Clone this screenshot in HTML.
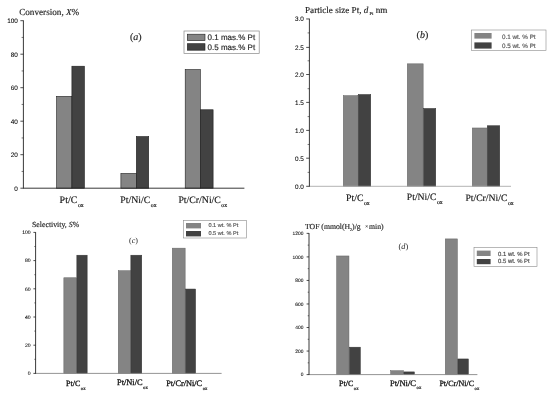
<!DOCTYPE html>
<html><head><meta charset="utf-8"><title>Figure</title>
<style>html,body{margin:0;padding:0;background:#fff;}svg{display:block;}text{text-rendering:geometricPrecision;}</style>
</head><body>
<svg width="550" height="395" viewBox="0 0 550 395">
<rect width="550" height="395" fill="#fff"/>
<rect x="56.60" y="96.37" width="15.30" height="91.83" fill="#848484" stroke="#1e1e1e" stroke-width="0.6"/>
<rect x="71.90" y="66.22" width="12.50" height="121.98" fill="#424242" stroke="#1e1e1e" stroke-width="0.6"/>
<rect x="120.90" y="173.43" width="15.40" height="14.77" fill="#848484" stroke="#1e1e1e" stroke-width="0.6"/>
<rect x="136.30" y="136.57" width="12.40" height="51.62" fill="#424242" stroke="#1e1e1e" stroke-width="0.6"/>
<rect x="185.20" y="69.57" width="15.10" height="118.62" fill="#848484" stroke="#1e1e1e" stroke-width="0.6"/>
<rect x="200.30" y="109.77" width="12.80" height="78.43" fill="#424242" stroke="#1e1e1e" stroke-width="0.6"/>
<line x1="23.40" y1="188.20" x2="244.40" y2="188.20" stroke="#222" stroke-width="0.9"/>
<line x1="23.40" y1="20.40" x2="23.40" y2="188.60" stroke="#222" stroke-width="0.9"/>
<line x1="20.40" y1="188.20" x2="23.40" y2="188.20" stroke="#222" stroke-width="0.8"/>
<text x="17.80" y="190.50" font-family='"Liberation Sans", sans-serif' font-size="6.4" text-anchor="end" fill="#000"  stroke="#000" stroke-width="0.06">0</text>
<line x1="20.40" y1="154.70" x2="23.40" y2="154.70" stroke="#222" stroke-width="0.8"/>
<text x="17.80" y="157.00" font-family='"Liberation Sans", sans-serif' font-size="6.4" text-anchor="end" fill="#000"  stroke="#000" stroke-width="0.06">20</text>
<line x1="20.40" y1="121.20" x2="23.40" y2="121.20" stroke="#222" stroke-width="0.8"/>
<text x="17.80" y="123.50" font-family='"Liberation Sans", sans-serif' font-size="6.4" text-anchor="end" fill="#000"  stroke="#000" stroke-width="0.06">40</text>
<line x1="20.40" y1="87.70" x2="23.40" y2="87.70" stroke="#222" stroke-width="0.8"/>
<text x="17.80" y="90.00" font-family='"Liberation Sans", sans-serif' font-size="6.4" text-anchor="end" fill="#000"  stroke="#000" stroke-width="0.06">60</text>
<line x1="20.40" y1="54.20" x2="23.40" y2="54.20" stroke="#222" stroke-width="0.8"/>
<text x="17.80" y="56.50" font-family='"Liberation Sans", sans-serif' font-size="6.4" text-anchor="end" fill="#000"  stroke="#000" stroke-width="0.06">80</text>
<line x1="20.40" y1="20.70" x2="23.40" y2="20.70" stroke="#222" stroke-width="0.8"/>
<text x="17.80" y="23.00" font-family='"Liberation Sans", sans-serif' font-size="6.4" text-anchor="end" fill="#000"  stroke="#000" stroke-width="0.06">100</text>
<line x1="21.60" y1="171.45" x2="23.40" y2="171.45" stroke="#222" stroke-width="0.6"/>
<line x1="21.60" y1="137.95" x2="23.40" y2="137.95" stroke="#222" stroke-width="0.6"/>
<line x1="21.60" y1="104.45" x2="23.40" y2="104.45" stroke="#222" stroke-width="0.6"/>
<line x1="21.60" y1="70.95" x2="23.40" y2="70.95" stroke="#222" stroke-width="0.6"/>
<line x1="21.60" y1="37.45" x2="23.40" y2="37.45" stroke="#222" stroke-width="0.6"/>
<text x="19.20" y="15.00" font-family='"Liberation Serif", serif' font-size="9.17" text-anchor="start" fill="#222"  stroke="#222" stroke-width="0.15">Conversion, <tspan font-style="italic">X</tspan>%</text>
<text x="130.00" y="39.60" font-family='"Liberation Serif", serif' font-size="10" text-anchor="start" fill="#222"  stroke="#222" stroke-width="0.15">(<tspan font-style="italic">a</tspan>)</text>
<text x="59.60" y="203.00" font-family='"Liberation Serif", serif' font-size="10" text-anchor="start" fill="#151515"  stroke="#151515" stroke-width="0.15">Pt/C<tspan font-size="5.8" dy="4.0" dx="0.5" stroke-width="0.18">ox</tspan></text>
<text x="120.30" y="202.70" font-family='"Liberation Serif", serif' font-size="9.8" text-anchor="start" fill="#151515"  stroke="#151515" stroke-width="0.15">Pt/Ni/C<tspan font-size="5.8" dy="4.0" dx="0.5" stroke-width="0.18">ox</tspan></text>
<text x="178.40" y="202.70" font-family='"Liberation Serif", serif' font-size="9.8" text-anchor="start" fill="#151515"  stroke="#151515" stroke-width="0.15">Pt/Cr/Ni/C<tspan font-size="5.8" dy="4.0" dx="0.5" stroke-width="0.18">ox</tspan></text>
<rect x="184.00" y="31.00" width="75.20" height="22.40" fill="#fff" stroke="#888" stroke-width="0.7"/>
<rect x="187.30" y="34.20" width="17.70" height="6.40" fill="#848484" stroke="#1e1e1e" stroke-width="0.6"/>
<rect x="187.30" y="43.70" width="17.70" height="6.50" fill="#424242" stroke="#1e1e1e" stroke-width="0.6"/>
<text x="207.60" y="40.10" font-family='"Liberation Sans", sans-serif' font-size="8.0" text-anchor="start" fill="#222"  stroke="#222" stroke-width="0.15">0.1 mas.% Pt</text>
<text x="207.60" y="49.90" font-family='"Liberation Sans", sans-serif' font-size="8.0" text-anchor="start" fill="#222"  stroke="#222" stroke-width="0.15">0.5 mas.% Pt</text>
<rect x="343.25" y="95.63" width="14.50" height="90.67" fill="#848484" stroke="#626262" stroke-width="0.5"/>
<rect x="358.25" y="94.51" width="12.50" height="91.79" fill="#424242" stroke="#303030" stroke-width="0.5"/>
<rect x="407.25" y="63.83" width="15.90" height="122.47" fill="#848484" stroke="#626262" stroke-width="0.5"/>
<rect x="423.65" y="108.46" width="12.10" height="77.84" fill="#424242" stroke="#303030" stroke-width="0.5"/>
<rect x="472.25" y="127.98" width="14.50" height="58.32" fill="#848484" stroke="#626262" stroke-width="0.5"/>
<rect x="487.25" y="125.75" width="12.50" height="60.55" fill="#424242" stroke="#303030" stroke-width="0.5"/>
<line x1="309.40" y1="186.30" x2="511.00" y2="186.30" stroke="#aaa" stroke-width="0.9"/>
<line x1="309.40" y1="18.66" x2="309.40" y2="186.70" stroke="#222" stroke-width="0.9"/>
<line x1="306.20" y1="186.30" x2="309.40" y2="186.30" stroke="#222" stroke-width="0.8"/>
<text x="303.90" y="188.60" font-family='"Liberation Sans", sans-serif' font-size="6.4" text-anchor="end" fill="#000"  stroke="#000" stroke-width="0.06">0.0</text>
<line x1="306.20" y1="158.20" x2="309.40" y2="158.20" stroke="#222" stroke-width="0.8"/>
<text x="303.90" y="160.50" font-family='"Liberation Sans", sans-serif' font-size="6.4" text-anchor="end" fill="#000"  stroke="#000" stroke-width="0.06">0.5</text>
<line x1="306.20" y1="130.40" x2="309.40" y2="130.40" stroke="#222" stroke-width="0.8"/>
<text x="303.90" y="132.70" font-family='"Liberation Sans", sans-serif' font-size="6.4" text-anchor="end" fill="#000"  stroke="#000" stroke-width="0.06">1.0</text>
<line x1="306.20" y1="102.40" x2="309.40" y2="102.40" stroke="#222" stroke-width="0.8"/>
<text x="303.90" y="104.70" font-family='"Liberation Sans", sans-serif' font-size="6.4" text-anchor="end" fill="#000"  stroke="#000" stroke-width="0.06">1.5</text>
<line x1="306.20" y1="74.50" x2="309.40" y2="74.50" stroke="#222" stroke-width="0.8"/>
<text x="303.90" y="76.80" font-family='"Liberation Sans", sans-serif' font-size="6.4" text-anchor="end" fill="#000"  stroke="#000" stroke-width="0.06">2.0</text>
<line x1="306.20" y1="47.40" x2="309.40" y2="47.40" stroke="#222" stroke-width="0.8"/>
<text x="303.90" y="49.70" font-family='"Liberation Sans", sans-serif' font-size="6.4" text-anchor="end" fill="#000"  stroke="#000" stroke-width="0.06">2.5</text>
<line x1="306.20" y1="18.96" x2="309.40" y2="18.96" stroke="#222" stroke-width="0.8"/>
<text x="303.90" y="21.26" font-family='"Liberation Sans", sans-serif' font-size="6.4" text-anchor="end" fill="#000"  stroke="#000" stroke-width="0.06">3.0</text>
<line x1="307.60" y1="172.36" x2="309.40" y2="172.36" stroke="#222" stroke-width="0.6"/>
<line x1="307.60" y1="144.47" x2="309.40" y2="144.47" stroke="#222" stroke-width="0.6"/>
<line x1="307.60" y1="116.58" x2="309.40" y2="116.58" stroke="#222" stroke-width="0.6"/>
<line x1="307.60" y1="88.69" x2="309.40" y2="88.69" stroke="#222" stroke-width="0.6"/>
<line x1="307.60" y1="60.80" x2="309.40" y2="60.80" stroke="#222" stroke-width="0.6"/>
<line x1="307.60" y1="32.91" x2="309.40" y2="32.91" stroke="#222" stroke-width="0.6"/>
<text x="305.00" y="12.80" font-family='"Liberation Serif", serif' font-size="9.15" text-anchor="start" fill="#222"  stroke="#222" stroke-width="0.15">Particle size Pt, <tspan font-style="italic">d</tspan><tspan font-size="4.6" dy="2.6" dx="1.2">Pt</tspan><tspan dy="-2.6"> nm</tspan></text>
<text x="416.60" y="38.20" font-family='"Liberation Serif", serif' font-size="10" text-anchor="start" fill="#222"  stroke="#222" stroke-width="0.15">(<tspan font-style="italic">b</tspan>)</text>
<text x="346.00" y="201.00" font-family='"Liberation Serif", serif' font-size="9.8" text-anchor="start" fill="#151515"  stroke="#151515" stroke-width="0.15">Pt/C<tspan font-size="5.8" dy="4.0" dx="0.5" stroke-width="0.18">ox</tspan></text>
<text x="406.80" y="199.90" font-family='"Liberation Serif", serif' font-size="9.7" text-anchor="start" fill="#151515"  stroke="#151515" stroke-width="0.15">Pt/Ni/C<tspan font-size="5.8" dy="4.0" dx="0.5" stroke-width="0.18">ox</tspan></text>
<text x="465.40" y="200.60" font-family='"Liberation Serif", serif' font-size="9.7" text-anchor="start" fill="#151515"  stroke="#151515" stroke-width="0.15">Pt/Cr/Ni/C<tspan font-size="5.8" dy="4.0" dx="0.5" stroke-width="0.18">ox</tspan></text>
<rect x="471.40" y="30.00" width="74.60" height="20.60" fill="#fff" stroke="#8a8a8a" stroke-width="0.6"/>
<rect x="474.40" y="33.00" width="17.20" height="5.60" fill="#848484"/>
<rect x="474.40" y="42.40" width="17.20" height="6.20" fill="#424242"/>
<text x="502.00" y="38.80" font-family='"Liberation Sans", sans-serif' font-size="6.3" text-anchor="start" fill="#555"  stroke="#555" stroke-width="0.15">0.1 wt. % Pt</text>
<text x="502.00" y="47.70" font-family='"Liberation Sans", sans-serif' font-size="6.3" text-anchor="start" fill="#555"  stroke="#555" stroke-width="0.15">0.5 wt. % Pt</text>
<rect x="63.85" y="277.77" width="12.50" height="95.63" fill="#848484" stroke="#626262" stroke-width="0.5"/>
<rect x="76.85" y="255.21" width="10.30" height="118.19" fill="#424242" stroke="#303030" stroke-width="0.5"/>
<rect x="118.25" y="270.72" width="12.10" height="102.68" fill="#848484" stroke="#626262" stroke-width="0.5"/>
<rect x="130.85" y="255.21" width="10.90" height="118.19" fill="#424242" stroke="#303030" stroke-width="0.5"/>
<rect x="172.25" y="248.16" width="12.90" height="125.24" fill="#848484" stroke="#626262" stroke-width="0.5"/>
<rect x="185.65" y="289.05" width="9.90" height="84.35" fill="#424242" stroke="#303030" stroke-width="0.5"/>
<line x1="35.60" y1="373.40" x2="221.60" y2="373.40" stroke="#888" stroke-width="0.9"/>
<line x1="35.60" y1="232.10" x2="35.60" y2="373.80" stroke="#222" stroke-width="0.9"/>
<line x1="33.40" y1="373.40" x2="35.60" y2="373.40" stroke="#222" stroke-width="0.8"/>
<text x="30.70" y="375.24" font-family='"Liberation Sans", sans-serif' font-size="5.1" text-anchor="end" fill="#000"  stroke="#000" stroke-width="0.06">0</text>
<line x1="33.40" y1="345.20" x2="35.60" y2="345.20" stroke="#222" stroke-width="0.8"/>
<text x="30.70" y="347.04" font-family='"Liberation Sans", sans-serif' font-size="5.1" text-anchor="end" fill="#000"  stroke="#000" stroke-width="0.06">20</text>
<line x1="33.40" y1="317.00" x2="35.60" y2="317.00" stroke="#222" stroke-width="0.8"/>
<text x="30.70" y="318.84" font-family='"Liberation Sans", sans-serif' font-size="5.1" text-anchor="end" fill="#000"  stroke="#000" stroke-width="0.06">40</text>
<line x1="33.40" y1="288.80" x2="35.60" y2="288.80" stroke="#222" stroke-width="0.8"/>
<text x="30.70" y="290.64" font-family='"Liberation Sans", sans-serif' font-size="5.1" text-anchor="end" fill="#000"  stroke="#000" stroke-width="0.06">60</text>
<line x1="33.40" y1="260.60" x2="35.60" y2="260.60" stroke="#222" stroke-width="0.8"/>
<text x="30.70" y="262.44" font-family='"Liberation Sans", sans-serif' font-size="5.1" text-anchor="end" fill="#000"  stroke="#000" stroke-width="0.06">80</text>
<line x1="33.40" y1="232.40" x2="35.60" y2="232.40" stroke="#222" stroke-width="0.8"/>
<text x="30.70" y="234.24" font-family='"Liberation Sans", sans-serif' font-size="5.1" text-anchor="end" fill="#000"  stroke="#000" stroke-width="0.06">100</text>
<line x1="34.30" y1="359.30" x2="35.60" y2="359.30" stroke="#222" stroke-width="0.6"/>
<line x1="34.30" y1="331.10" x2="35.60" y2="331.10" stroke="#222" stroke-width="0.6"/>
<line x1="34.30" y1="302.90" x2="35.60" y2="302.90" stroke="#222" stroke-width="0.6"/>
<line x1="34.30" y1="274.70" x2="35.60" y2="274.70" stroke="#222" stroke-width="0.6"/>
<line x1="34.30" y1="246.50" x2="35.60" y2="246.50" stroke="#222" stroke-width="0.6"/>
<text x="32.00" y="226.60" font-family='"Liberation Serif", serif' font-size="7.8" text-anchor="start" fill="#222"  stroke="#222" stroke-width="0.15">Selectivity, <tspan font-style="italic">S</tspan>%</text>
<text x="129.00" y="243.10" font-family='"Liberation Serif", serif' font-size="8" text-anchor="start" fill="#222" >(<tspan font-style="italic">c</tspan>)</text>
<text x="66.00" y="386.00" font-family='"Liberation Serif", serif' font-size="8.0" text-anchor="start" fill="#151515"  stroke="#151515" stroke-width="0.3">Pt/C<tspan font-size="4.8" dy="3.5" dx="0.5" stroke-width="0.18">ox</tspan></text>
<text x="117.00" y="385.20" font-family='"Liberation Serif", serif' font-size="8.4" text-anchor="start" fill="#151515"  stroke="#151515" stroke-width="0.3">Pt/Ni/C<tspan font-size="4.8" dy="3.5" dx="0.5" stroke-width="0.18">ox</tspan></text>
<text x="166.20" y="386.40" font-family='"Liberation Serif", serif' font-size="8.3" text-anchor="start" fill="#151515"  stroke="#151515" stroke-width="0.3">Pt/Cr/Ni/C<tspan font-size="4.8" dy="3.5" dx="0.5" stroke-width="0.18">ox</tspan></text>
<rect x="183.40" y="220.60" width="63.20" height="17.40" fill="#fff" stroke="#8a8a8a" stroke-width="0.6"/>
<rect x="186.00" y="223.00" width="15.00" height="5.40" fill="#848484"/>
<rect x="186.00" y="231.00" width="15.00" height="5.40" fill="#424242"/>
<text x="208.40" y="227.30" font-family='"Liberation Sans", sans-serif' font-size="5.6" text-anchor="start" fill="#555"  stroke="#555" stroke-width="0.15">0.1 wt. % Pt</text>
<text x="208.40" y="234.90" font-family='"Liberation Sans", sans-serif' font-size="5.6" text-anchor="start" fill="#555"  stroke="#555" stroke-width="0.15">0.5 wt. % Pt</text>
<rect x="336.65" y="255.97" width="12.30" height="118.63" fill="#848484" stroke="#626262" stroke-width="0.5"/>
<rect x="349.45" y="347.19" width="10.90" height="27.41" fill="#424242" stroke="#303030" stroke-width="0.5"/>
<rect x="390.65" y="370.73" width="12.70" height="3.87" fill="#848484" stroke="#626262" stroke-width="0.5"/>
<rect x="403.85" y="371.91" width="10.50" height="2.69" fill="#424242" stroke="#303030" stroke-width="0.5"/>
<rect x="445.25" y="238.91" width="12.10" height="135.69" fill="#848484" stroke="#626262" stroke-width="0.5"/>
<rect x="457.85" y="358.96" width="10.50" height="15.64" fill="#424242" stroke="#303030" stroke-width="0.5"/>
<line x1="309.00" y1="374.60" x2="477.40" y2="374.60" stroke="#888" stroke-width="0.9"/>
<line x1="309.00" y1="233.06" x2="309.00" y2="375.00" stroke="#222" stroke-width="0.9"/>
<line x1="306.60" y1="374.60" x2="309.00" y2="374.60" stroke="#222" stroke-width="0.8"/>
<text x="303.40" y="376.35" font-family='"Liberation Sans", sans-serif' font-size="4.85" text-anchor="end" fill="#000"  stroke="#000" stroke-width="0.06">0</text>
<line x1="306.60" y1="351.06" x2="309.00" y2="351.06" stroke="#222" stroke-width="0.8"/>
<text x="303.40" y="352.81" font-family='"Liberation Sans", sans-serif' font-size="4.85" text-anchor="end" fill="#000"  stroke="#000" stroke-width="0.06">200</text>
<line x1="306.60" y1="327.52" x2="309.00" y2="327.52" stroke="#222" stroke-width="0.8"/>
<text x="303.40" y="329.27" font-family='"Liberation Sans", sans-serif' font-size="4.85" text-anchor="end" fill="#000"  stroke="#000" stroke-width="0.06">400</text>
<line x1="306.60" y1="303.98" x2="309.00" y2="303.98" stroke="#222" stroke-width="0.8"/>
<text x="303.40" y="305.73" font-family='"Liberation Sans", sans-serif' font-size="4.85" text-anchor="end" fill="#000"  stroke="#000" stroke-width="0.06">600</text>
<line x1="306.60" y1="280.44" x2="309.00" y2="280.44" stroke="#222" stroke-width="0.8"/>
<text x="303.40" y="282.19" font-family='"Liberation Sans", sans-serif' font-size="4.85" text-anchor="end" fill="#000"  stroke="#000" stroke-width="0.06">800</text>
<line x1="306.60" y1="256.90" x2="309.00" y2="256.90" stroke="#222" stroke-width="0.8"/>
<text x="303.40" y="258.65" font-family='"Liberation Sans", sans-serif' font-size="4.85" text-anchor="end" fill="#000"  stroke="#000" stroke-width="0.06">1000</text>
<line x1="306.60" y1="233.36" x2="309.00" y2="233.36" stroke="#222" stroke-width="0.8"/>
<text x="303.40" y="235.11" font-family='"Liberation Sans", sans-serif' font-size="4.85" text-anchor="end" fill="#000"  stroke="#000" stroke-width="0.06">1200</text>
<line x1="307.70" y1="362.83" x2="309.00" y2="362.83" stroke="#222" stroke-width="0.6"/>
<line x1="307.70" y1="339.29" x2="309.00" y2="339.29" stroke="#222" stroke-width="0.6"/>
<line x1="307.70" y1="315.75" x2="309.00" y2="315.75" stroke="#222" stroke-width="0.6"/>
<line x1="307.70" y1="292.21" x2="309.00" y2="292.21" stroke="#222" stroke-width="0.6"/>
<line x1="307.70" y1="268.67" x2="309.00" y2="268.67" stroke="#222" stroke-width="0.6"/>
<line x1="307.70" y1="245.13" x2="309.00" y2="245.13" stroke="#222" stroke-width="0.6"/>
<text x="305.00" y="228.60" font-family='"Liberation Serif", serif' font-size="7.72" text-anchor="start" fill="#222" xml:space="preserve" stroke="#222" stroke-width="0.15">TOF (mmol(H<tspan font-size="4" dy="2.3">2</tspan><tspan dy="-2.3">)/g </tspan><tspan font-size="5" dx="2.6" dy="-0.6">×</tspan><tspan dy="0.6" dx="1.0">min)</tspan></text>
<text x="398.60" y="249.00" font-family='"Liberation Serif", serif' font-size="8.2" text-anchor="start" fill="#222" >(<tspan font-style="italic">d</tspan>)</text>
<text x="339.00" y="386.40" font-family='"Liberation Serif", serif' font-size="8.0" text-anchor="start" fill="#151515"  stroke="#151515" stroke-width="0.3">Pt/C<tspan font-size="4.8" dy="3.5" dx="0.5" stroke-width="0.18">ox</tspan></text>
<text x="390.00" y="385.60" font-family='"Liberation Serif", serif' font-size="8.5" text-anchor="start" fill="#151515"  stroke="#151515" stroke-width="0.3">Pt/Ni/C<tspan font-size="4.8" dy="3.5" dx="0.5" stroke-width="0.18">ox</tspan></text>
<text x="439.40" y="386.40" font-family='"Liberation Serif", serif' font-size="8.0" text-anchor="start" fill="#151515"  stroke="#151515" stroke-width="0.3">Pt/Cr/Ni/C<tspan font-size="4.8" dy="3.5" dx="0.5" stroke-width="0.18">ox</tspan></text>
<rect x="474.00" y="247.60" width="63.00" height="18.80" fill="#fff" stroke="#8a8a8a" stroke-width="0.6"/>
<rect x="476.80" y="250.60" width="13.80" height="5.40" fill="#848484"/>
<rect x="476.80" y="259.00" width="13.80" height="5.20" fill="#424242"/>
<text x="498.00" y="255.60" font-family='"Liberation Sans", sans-serif' font-size="5.95" text-anchor="start" fill="#444"  stroke="#444" stroke-width="0.15">0.1 wt. % Pt</text>
<text x="498.00" y="263.40" font-family='"Liberation Sans", sans-serif' font-size="5.95" text-anchor="start" fill="#444"  stroke="#444" stroke-width="0.15">0.5 wt. % Pt</text>
</svg>
</body></html>
